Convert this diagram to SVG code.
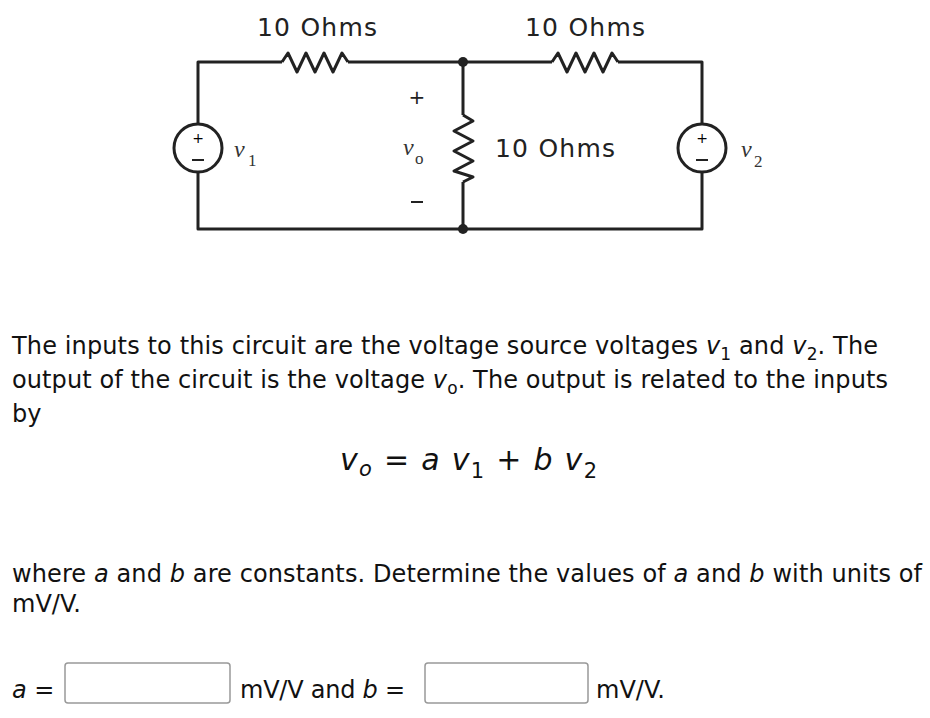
<svg xmlns="http://www.w3.org/2000/svg" width="930" height="718" viewBox="0 0 930 718">
<style>
.w{fill:none;stroke:#222;stroke-width:3;stroke-linejoin:round}
.t{font-family:"DejaVu Sans",Verdana,sans-serif;font-size:24px;fill:#111}
.c{font-family:"DejaVu Sans",sans-serif;font-size:25px;fill:#222}
.s{font-family:"Liberation Serif",serif;font-style:italic;font-size:24px;fill:#333}
.sub{font-family:"Liberation Serif",serif;font-size:17px;fill:#333}
.b{fill:#fff;stroke:#999;stroke-width:1.5}
</style>
<g id="connectors">
<path class="w" d="M198,124 V62 H282 M348,62 H552 M618,62 H702 V124"/>
<path class="w" d="M198,172 V229 H702 V172"/>
<path class="w" d="M463,62 V115 M463,182 V229"/>
</g>
<g id="R1"><path class="w" d="M282,62 L288,53 L297,72 L306,53 L315,72 L324,53 L333,72 L342,53 L348,62"/><text class="c" x="257" y="36" textLength="120">10 Ohms</text></g>
<g id="R2"><path class="w" d="M552,62 L558,53 L567,72 L576,53 L585,72 L594,53 L603,72 L612,53 L618,62"/><text class="c" x="525" y="36" textLength="120">10 Ohms</text></g>
<g id="R3"><path class="w" d="M463,115 L473,121 L454,131 L473,141 L454,151 L473,161 L454,171 L473,177 L463,182"/><text class="c" x="495" y="157" textLength="120">10 Ohms</text></g>
<g id="nodes"><circle cx="463" cy="62" r="5" fill="#222"/><circle cx="463" cy="229" r="5" fill="#222"/></g>
<g id="V1"><circle class="w" cx="198" cy="148" r="24"/><text x="198" y="143" font-family="DejaVu Sans" font-size="14" text-anchor="middle">+</text><line x1="192" y1="160" x2="204" y2="160" stroke="#222" stroke-width="2"/><text class="s" x="234" y="157">v</text><text class="sub" x="248" y="166">1</text></g>
<g id="V2"><circle class="w" cx="702" cy="148" r="24"/><text x="702" y="143" font-family="DejaVu Sans" font-size="14" text-anchor="middle">+</text><line x1="696" y1="160" x2="708" y2="160" stroke="#222" stroke-width="2"/><text class="s" x="741" y="157">v</text><text class="sub" x="754" y="167">2</text></g>
<g id="vo"><text x="417" y="104" font-family="DejaVu Sans" font-size="20" text-anchor="middle" fill="#222">+</text><text class="s" x="403" y="155">v</text><text class="sub" x="415" y="164">o</text><line x1="411" y1="202" x2="423" y2="202" stroke="#222" stroke-width="2"/></g>
<g id="text" class="t">
<text x="12" y="354" textLength="866">The inputs to this circuit are the voltage source voltages <tspan font-style="italic">v</tspan><tspan font-size="17" dy="6">1</tspan><tspan dy="-6"> and </tspan><tspan font-style="italic">v</tspan><tspan font-size="17" dy="6">2</tspan><tspan dy="-6">. The</tspan></text>
<text x="12" y="388" textLength="876">output of the circuit is the voltage <tspan font-style="italic">v</tspan><tspan font-size="17" dy="6">o</tspan><tspan dy="-6">. The output is related to the inputs</tspan></text>
<text x="12" y="422">by</text>
<text x="340" y="470" font-size="30" textLength="257"><tspan font-style="italic">v</tspan><tspan font-size="21" dy="6" font-style="italic">o</tspan><tspan dy="-6"> = </tspan><tspan font-style="italic">a v</tspan><tspan font-size="21" dy="8">1</tspan><tspan dy="-8"> + </tspan><tspan font-style="italic">b v</tspan><tspan font-size="21" dy="8">2</tspan></text>
<text x="12" y="582" textLength="910">where <tspan font-style="italic">a</tspan> and <tspan font-style="italic">b</tspan> are constants. Determine the values of <tspan font-style="italic">a</tspan> and <tspan font-style="italic">b</tspan> with units of</text>
<text x="12" y="612">mV/V.</text>
<text x="12" y="698"><tspan font-style="italic">a</tspan> =</text>
<text x="240" y="698" textLength="165">mV/V and <tspan font-style="italic">b</tspan> =</text>
<text x="596" y="698">mV/V.</text>
</g>
<g id="inputs"><rect class="b" x="65" y="663" width="165" height="40" rx="3"/><rect class="b" x="425" y="663" width="163" height="40" rx="3"/></g>
</svg>
